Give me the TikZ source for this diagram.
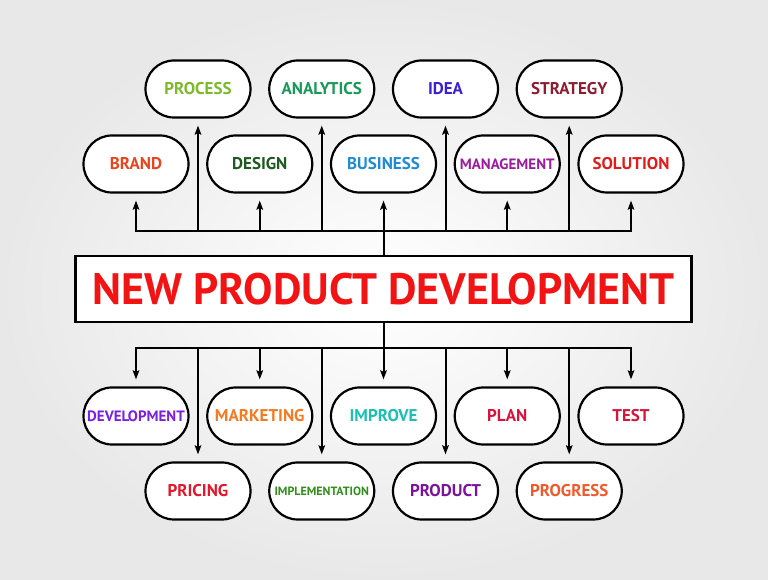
\documentclass[tikz,border=0pt]{standalone}
\usepackage{fontspec}
\setmainfont{PT Sans}
\usepackage{tikz}
\usetikzlibrary{positioning}
\usetikzlibrary{arrows.meta}
\usetikzlibrary{shapes.misc}
\definecolor{ctitle}{HTML}{F21414}
\definecolor{cprocess}{HTML}{7CBA2A}
\definecolor{canalytics}{HTML}{17995A}
\definecolor{cidea}{HTML}{3B1ED6}
\definecolor{cstrategy}{HTML}{8E1B2E}
\definecolor{cbrand}{HTML}{E8441E}
\definecolor{cdesign}{HTML}{1E5A1E}
\definecolor{cbusiness}{HTML}{1F8BD2}
\definecolor{cmanagement}{HTML}{9B1C9E}
\definecolor{csolution}{HTML}{E21B1B}
\definecolor{cdevelopment}{HTML}{7B1FE0}
\definecolor{cmarketing}{HTML}{F57A22}
\definecolor{cimprove}{HTML}{19C0B3}
\definecolor{cplan}{HTML}{D7143E}
\definecolor{ctest}{HTML}{D3173D}
\definecolor{cpricing}{HTML}{E3162A}
\definecolor{cimplementation}{HTML}{2F8F1A}
\definecolor{cproduct}{HTML}{7C129C}
\definecolor{cprogress}{HTML}{F2592A}
\tikzset{x=1pt,y=1pt,node distance=123.75pt,
      pill/.style={rounded rectangle, draw, line width=2.2pt, fill=white,
      minimum width=107pt, minimum height=57pt, inner sep=1pt,
      font=\fontsize{17}{20}\selectfont\bfseries},
      bus/.style={draw, line width=2pt, line cap=rect},
      link/.style={draw,
      ->,>={Stealth[length=9pt,width=6.5pt,inset=1.5pt]},shorten >=7pt,
line width=2pt}}

\begin{document}
\begin{tikzpicture}
          \useasboundingbox (0,0) rectangle (768,580);
          \shade[inner color=white, outer color=black!9] (0,0) rectangle (768,580);
          \coordinate (topbus) at (0,349);
          \coordinate (botbus) at (0,232);
          \node[draw, line width=2.2pt, fill=white, minimum width=616pt, minimum height=66pt,
                text=ctitle, font=\fontsize{44}{44}\selectfont\bfseries] (title) at (383.5,291) {NEW PRODUCT DEVELOPMENT};
          \node[pill, text=cbrand] (brand) at (136,416) {BRAND};
          \node[pill, text=cdesign, right of=brand] (design) {DESIGN};
          \node[pill, text=cbusiness, right of=design] (business) {BUSINESS};
          \node[pill, text=cmanagement, right of=business, font=\fontsize{15}{18}\selectfont\bfseries] (management) {MANAGEMENT};
          \node[pill, text=csolution, right of=management] (solution) {SOLUTION};
          \node[pill, text=cprocess] (process) at (198,491) {PROCESS};
          \node[pill, text=canalytics, right of=process] (analytics) {ANALYTICS};
          \node[pill, text=cidea, right of=analytics] (idea) {IDEA};
          \node[pill, text=cstrategy, right of=idea] (strategy) {STRATEGY};
          \node[pill, text=cdevelopment, font=\fontsize{15}{18}\selectfont\bfseries] (development) at (136,164) {DEVELOPMENT};
          \node[pill, text=cmarketing, right of=development] (marketing) {MARKETING};
          \node[pill, text=cimprove, right of=marketing] (improve) {IMPROVE};
          \node[pill, text=cplan, right of=improve] (plan) {PLAN};
          \node[pill, text=ctest, right of=plan] (test) {TEST};
          \node[pill, text=cpricing] (pricing) at (198,89) {PRICING};
          \node[pill, text=cimplementation, right of=pricing, font=\fontsize{12}{14}\selectfont\bfseries] (implementation) {IMPLEMENTATION};
          \node[pill, text=cproduct, right of=implementation] (product) {PRODUCT};
          \node[pill, text=cprogress, right of=product] (progress) {PROGRESS};
          \draw[bus] (brand |- topbus) -- (solution |- topbus);
          \draw[bus] (development |- botbus) -- (test |- botbus);
          \draw[bus] (title) -- (title |- botbus);
          \draw[link] (title) -- (business);
          \draw[link] (brand |- topbus) -- (brand);
          \draw[link] (design |- topbus) -- (design);
          \draw[link] (management |- topbus) -- (management);
          \draw[link] (solution |- topbus) -- (solution);
          \draw[link] (process |- topbus) -- (process);
          \draw[link] (analytics |- topbus) -- (analytics);
          \draw[link] (idea |- topbus) -- (idea);
          \draw[link] (strategy |- topbus) -- (strategy);
          \draw[link] (title) -- (improve);
          \draw[link] (development |- botbus) -- (development);
          \draw[link] (marketing |- botbus) -- (marketing);
          \draw[link] (plan |- botbus) -- (plan);
          \draw[link] (test |- botbus) -- (test);
          \draw[link] (pricing |- botbus) -- (pricing);
          \draw[link] (implementation |- botbus) -- (implementation);
          \draw[link] (product |- botbus) -- (product);
          \draw[link] (progress |- botbus) -- (progress);
       \end{tikzpicture}
\end{document}
